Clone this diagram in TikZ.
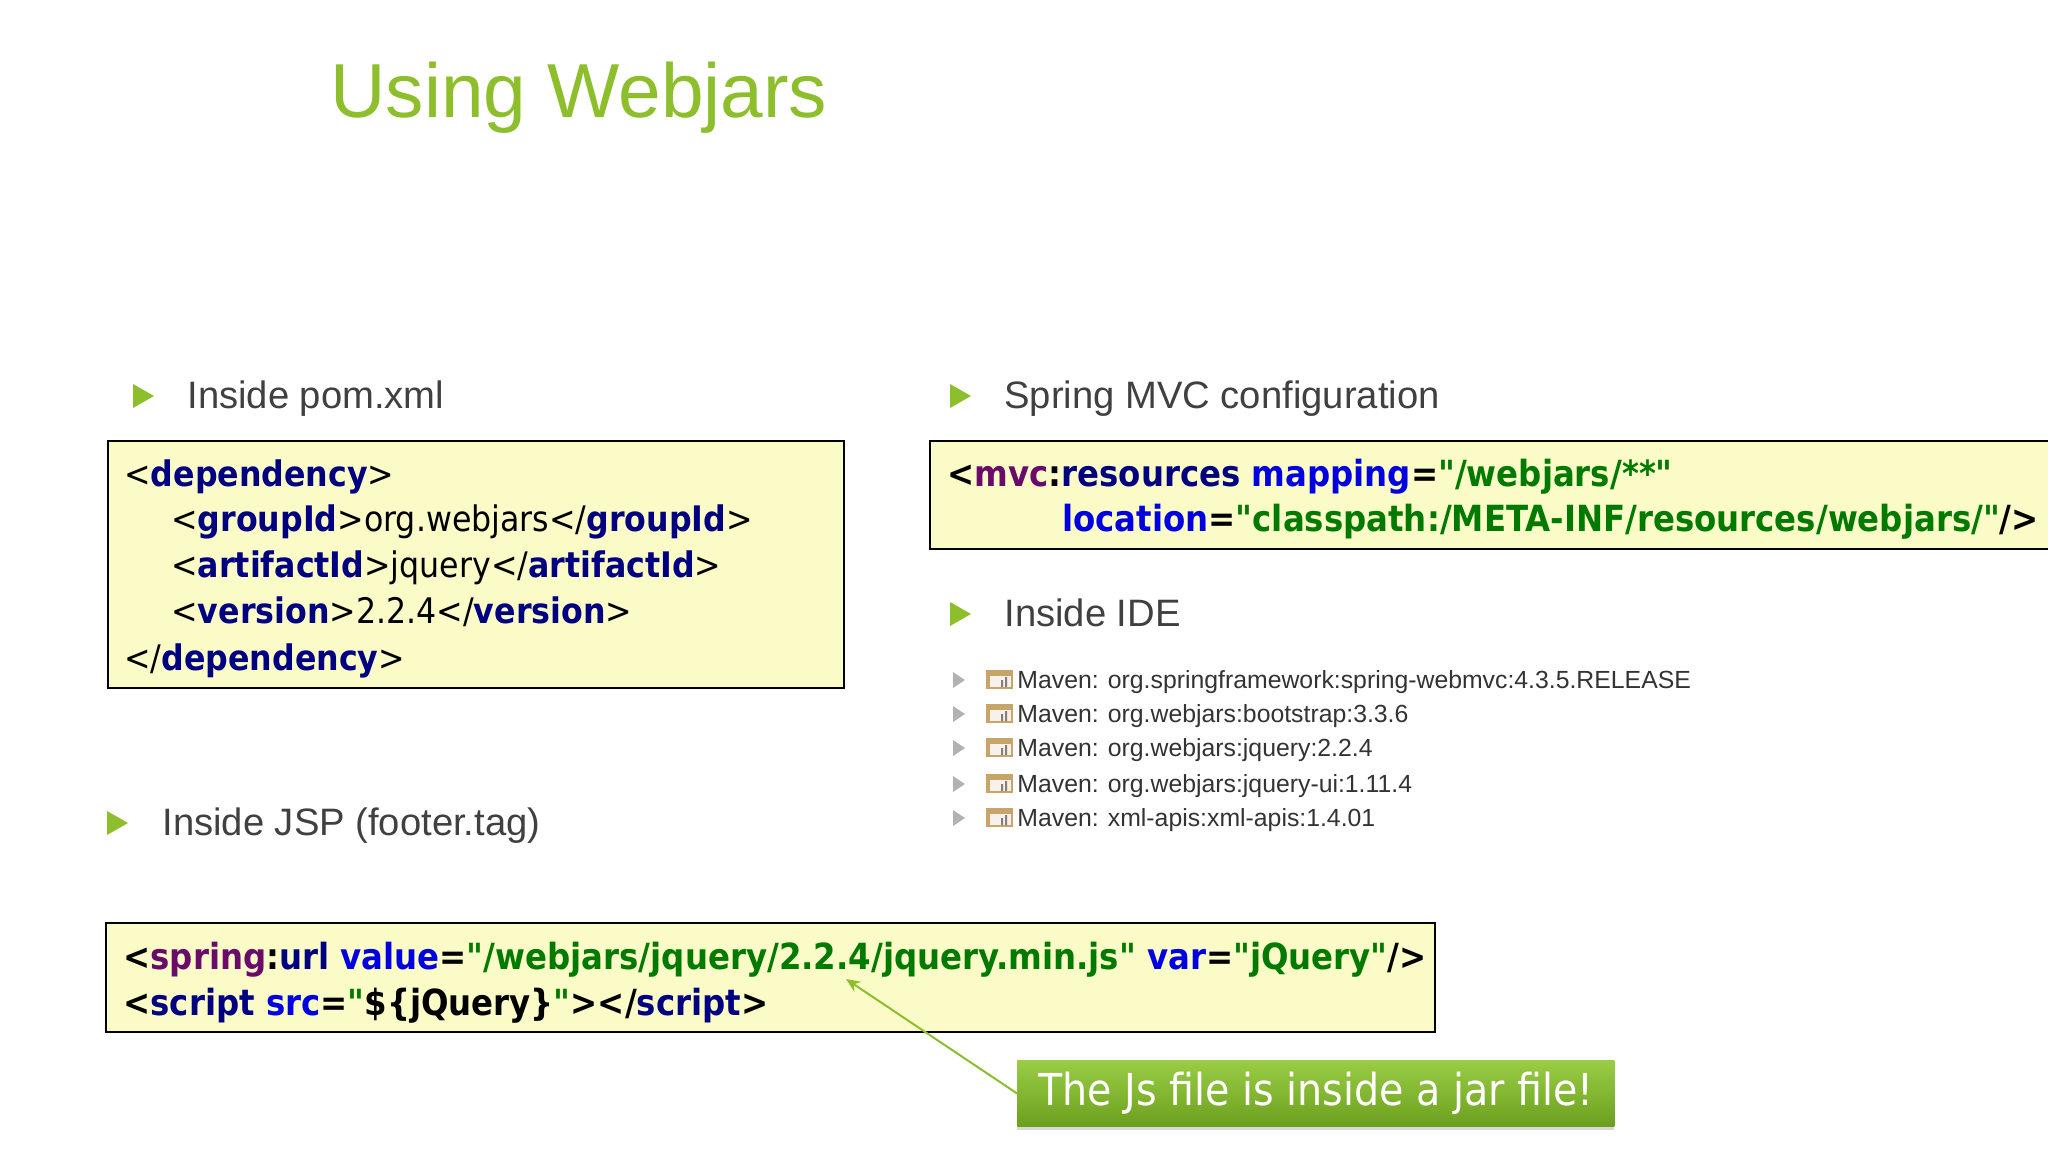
\documentclass[tikz,border=0pt]{standalone}
\usepackage{fontspec}
\setmainfont{Liberation Sans}
\newfontfamily\codefont{DejaVu Sans Condensed}
\newfontfamily\idefont{Liberation Sans}
\usetikzlibrary{arrows.meta,shadows}
\definecolor{titlegreen}{HTML}{8DBE2C}
\definecolor{bulletgreen}{HTML}{8DBE2C}
\definecolor{bodygray}{HTML}{404040}
\definecolor{codebg}{HTML}{FBFBC8}
\definecolor{tagnavy}{HTML}{000080}
\definecolor{attrblue}{HTML}{0000E0}
\definecolor{valgreen}{HTML}{007A00}
\definecolor{nspurple}{HTML}{6A0A6A}
\definecolor{calltop}{HTML}{9ACD45}
\definecolor{callbot}{HTML}{6C9F1E}
\definecolor{foldertan}{HTML}{C9A46A}
\newcommand\tg[1]{\textcolor{tagnavy}{\bfseries #1}}
\newcommand\at[1]{\textcolor{attrblue}{#1}}
\newcommand\vl[1]{\textcolor{valgreen}{#1}}
\newcommand\ns[1]{\textcolor{nspurple}{#1}}
\tikzset{
  bullettri/.style={fill=bulletgreen, draw=none},
  bullettext/.style={anchor=base west, inner sep=0pt, text=bodygray, font=\fontsize{19.1}{23}\selectfont},
  codebox/.style={draw=black, line width=0.8pt, fill=codebg},
  codeline/.style={anchor=base west, inner sep=0pt, font=\codefont\fontsize{17.6}{22}\selectfont},
  boldcodeline/.style={anchor=base west, inner sep=0pt, font=\codefont\bfseries\fontsize{18}{22}\selectfont},
  ideline/.style={anchor=base west, inner sep=0pt, text=black!80, font=\idefont\fontsize{12.4}{14}\selectfont},
  idetri/.style={fill=gray!60, draw=none},
}
\begin{document}
\begin{tikzpicture}[x=0.5pt,y=-0.5pt]
\useasboundingbox[fill=white] (0,0) rectangle (2048,1152);
% title
\node[anchor=base west, inner sep=0pt, text=titlegreen, font=\fontsize{38.3}{42}\selectfont] (title) at (330,117) {Using Webjars};
% bullets
\fill[bullettri] (133,384) -- (154,396) -- (133,408) -- cycle;
\node[bullettext] (b1) at (187,408) {Inside pom.xml};
\fill[bullettri] (950,384) -- (971,396) -- (950,408) -- cycle;
\node[bullettext] (b2) at (1004,408) {Spring MVC configuration};
\fill[bullettri] (950,602) -- (971,614) -- (950,626) -- cycle;
\node[bullettext] (b3) at (1004,626) {Inside IDE};
\fill[bullettri] (107,811) -- (128,823) -- (107,835) -- cycle;
\node[bullettext] (b4) at (162,835) {Inside JSP (footer.tag)};
% box 1
\path[codebox] (108,441) rectangle (844,688);
\node[codeline] (p1) at (124,486) {<\tg{dependency}>};
\node[codeline] (p2) at (171,531) {<\tg{groupId}>org.webjars</\tg{groupId}>};
\node[codeline] (p3) at (171,577) {<\tg{artifactId}>jquery</\tg{artifactId}>};
\node[codeline] (p4) at (171,623) {<\tg{version}>2.2.4</\tg{version}>};
\node[codeline] (p5) at (124,670) {</\tg{dependency}>};
% box 2
\path[codebox] (930,441) rectangle (2060,549);
\node[boldcodeline] (m1) at (947,486) {<\ns{mvc}:\tg{resources} \at{mapping}=\vl{"/webjars/**"}};
\node[boldcodeline] (m2) at (1062,531) {\at{location}=\vl{"classpath:/META-INF/resources/webjars/"}/>};
% IDE list
\foreach \y/\t [count=\i] in {688/{Maven: org.springframework:spring-webmvc:4.3.5.RELEASE},722/{Maven: org.webjars:bootstrap:3.3.6},756/{Maven: org.webjars:jquery:2.2.4},792/{Maven: org.webjars:jquery-ui:1.11.4},826/{Maven: xml-apis:xml-apis:1.4.01}}{
  \fill[idetri] (953,\y-16) -- (965,\y-8) -- (953,\y) -- cycle;
  \fill[foldertan] (986,\y-18) rectangle (1013,\y+1);
  \fill[white!85!foldertan] (990,\y-12) rectangle (1011,\y-1);
  \fill[gray] (1001,\y-8) rectangle (1003,\y-1) (1005,\y-11) rectangle (1007,\y-1);
  \node[ideline] (ide\i) at (1017,\y) {\t};
}
% box 3
\path[codebox] (106,923) rectangle (1435,1032);
\node[boldcodeline] (s1) at (123,969) {<\ns{spring}:\tg{url} \at{value}=\vl{"/webjars/jquery/2.2.4/jquery.min.js"} \at{var}=\vl{"jQuery"}/>};
\node[boldcodeline] (s2) at (123,1015) {<\tg{script} \at{src}=\vl{"}\$\{jQuery\}\vl{"}></\tg{script}>};
\coordinate (target) at (846,979);
% callout
\node[anchor=north west, minimum width=597*0.5pt, minimum height=66*0.5pt, inner sep=0pt,
  top color=calltop, bottom color=callbot, draw=none,
  drop shadow={shadow xshift=0pt, shadow yshift=-2pt, opacity=0.3},
  text=white, font=\codefont\fontsize{22}{26}\selectfont] (call) at (1017,1060) {The Js file is inside a jar file!};
\draw[-{Stealth[length=7pt,width=6pt]}, draw=bulletgreen, line width=1pt] (call.west) -- (target);
\end{tikzpicture}
\end{document}
